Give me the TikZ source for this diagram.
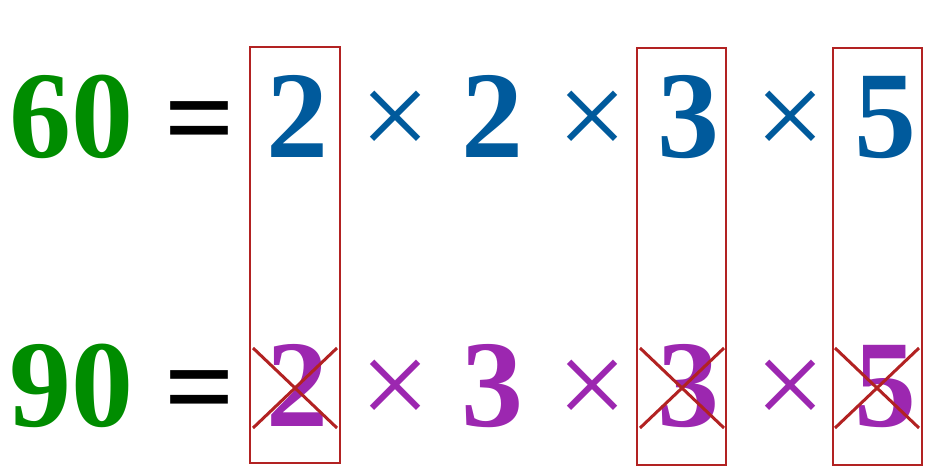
\documentclass[tikz,border=0pt]{standalone}
\usepackage{fontspec}
\setmainfont{Liberation Serif}
\usetikzlibrary{calc}
\definecolor{numgreen}{HTML}{008C00}
\definecolor{numblue}{HTML}{005A9C}
\definecolor{numpurple}{HTML}{9C27B0}
\definecolor{boxred}{HTML}{B22222}
\begin{document}
\begin{tikzpicture}[
        x=0.5pt, y=-0.5pt,
        num/.style={
            anchor=base,
            inner sep=0pt,
            font=\fontsize{62}{62}\selectfont\bfseries,
        },
        times/.style={
            num,
            font=\fontsize{62}{62}\selectfont\mdseries,
        },
        frame/.style={
            draw=boxred,
            line width=0.8pt,
        },
        strike/.style={
            draw=boxred,
            line width=1.5pt,
        },
    ]
    \useasboundingbox (0,0) rectangle (949,476);

    % first row
    \node[num, numgreen] (a0) at (72, 158) {60};
    \node[num] (aeq) at (200, 160) {=};
    \node[num, numblue] (a1) at (297, 158) {2};
    \node[times, numblue] (ax1) at (395, 158) {×};
    \node[num, numblue] (a2) at (492, 158) {2};
    \node[times, numblue] (ax2) at (592, 158) {×};
    \node[num, numblue] (a3) at (688, 158) {3};
    \node[times, numblue] (ax3) at (790, 158) {×};
    \node[num, numblue] (a4) at (885, 158) {5};

    % second row
    \node[num, numgreen] (b0) at (72, 426) {90};
    \node[num] (beq) at (200, 428) {=};
    \node[num, numpurple] (b1) at (297, 426) {2};
    \node[times, numpurple] (bx1) at (395, 426) {×};
    \node[num, numpurple] (b2) at (492, 426) {3};
    \node[times, numpurple] (bx2) at (592, 426) {×};
    \node[num, numpurple] (b3) at (688, 426) {3};
    \node[times, numpurple] (bx3) at (790, 426) {×};
    \node[num, numpurple] (b4) at (885, 426) {5};

    % common factors
    \draw[frame] (250, 47) rectangle (340, 463);
    \draw[frame] (637, 48) rectangle (726, 465);
    \draw[frame] (833, 48) rectangle (922, 465);

    \foreach \n/\x in {b1/295, b3/682, b4/877} {
        \draw[strike] (\x-42, 348) -- (\x+42, 428);
        \draw[strike] (\x-42, 428) -- (\x+42, 348);
    }
\end{tikzpicture}
\end{document}
